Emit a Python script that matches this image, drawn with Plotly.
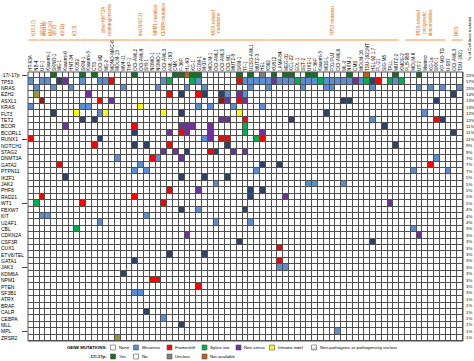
import plotly.graph_objects as go

# ---------------- data ----------------
genes = ["-17/-17p", "TP53", "NRAS", "EZH2", "ASXL1", "KRAS", "FLT3", "TET2", "BCOR", "BCORL1",
         "RUNX1", "NOTCH1", "STAG2", "DNMT3A", "GATA2", "PTPN11", "IKZF1", "JAK2", "PHF6", "RAD21",
         "WT1", "FBXW7", "KIT", "U2AF1", "CBL", "CDKN2A", "CSF3R", "CUX1", "ETV6/TEL", "GATA1",
         "JAK3", "KDM6A", "NPM1", "PTEN", "SF3B1", "ATRX", "BRAF", "CALR", "CEBPA", "MLL",
         "MPL", "ZRSR2"]

pct_mutated = ["25%", "57%", "25%", "14%", "13%", "13%", "12%", "12%", "11%", "11%",
               "11%", "9%", "9%", "7%", "7%", "7%", "5%", "5%", "5%", "5%",
               "5%", "4%", "4%", "4%", "3%", "3%", "3%", "3%", "3%", "3%",
               "3%", "3%", "3%", "3%", "3%", "1%", "1%", "1%", "1%", "1%",
               "1%", "1%"]

cell_lines = ["HT-93A", "NB-4", "UF-1", "Kasumi-1", "SKNO-1", "ME-1", "Kasumi-6", "HNT-34", "KO52", "SKM-1",
              "Kasumi-3", "CTS", "OCI-M2", "ME-2", "MONO-MAC-6", "MOLM-13", "MV4-11", "THP-1", "OCI-AML2", "OCI-AML4",
              "SHI-1", "NOMO-1", "NOMO-1", "OCI-AML3", "AML-193", "CMK", "F-36P", "HL-60", "KG-1", "GDM-1",
              "M-07e", "MOLM-1", "OCI-AML1", "OCI-AML5", "OCI-M1", "MUTZ-8", "SKM-1", "TF-1", "UCSD-AML1", "MUTZ-3",
              "HEL", "K562", "KU812", "LAMA-84", "MEG-01", "KCL-22", "EOL-1", "SET-2", "UKE-1", "F-36P",
              "Kasumi-3", "MDS-L", "P31/FUJ", "OCI-AML6", "ML-2", "NKM-1", "CMS", "MOLM-16", "TSU-1621MT", "HEL 92.1.7",
              "PL-21", "SIG-M5", "TALL", "MUTZ-2", "KMOE-2", "PLB-985", "MOLM-6", "UT-7", "Marimo", "KG-1a",
              "SKK-1", "KP-MO-TS", "U-937", "OCI-AML3", "TSU-1621"]

# mutation calls per gene: "column:code"
# M missense, F frameshift, S splice site, N non-sense, I inframe indel,
# U / u / f non-pathogenic or unclear (dark / inframe / frameshift)
# -17 row: Y yes, Q unclear, A not available (others = no)
mutation_calls = [
    "4Y 9Y 11Y 18Y 25Y 26Y 27A 28Y 29Y 36Y 38Y 40Q 42Y 44Y 45Y 48Y 49Y 55Y 58A 63Y 67Y",
    "0M 2M 3M 5U 6N 9M 12M 13M 14F 23M 24S 28S 29M 36F 37M 38M 39M 40M 41M 42N 43M 44M 45M 46S 47M 48M 49M 50S 51M 52M 53M 54M 55M 56N 57M 58S 59U 60F 62S 63M 64S",
    "1M 4M 7M 16M 22M 27M 30M 38M 41M 47M 51M 52M 59M 67M 69M 71M 74M",
    "1u 10N 24F 26U 29F 30U 33U 34M 36N 37M 73U",
    "2f 12F 14N 33f 34N 36F 37N 54U 55U 70U",
    "0M 9M 10M 19I 29M 31M 35M 40M",
    "4U 8I 12M 13I 23I 26U 36I 51U 68M",
    "9U 11U 33N 34N 37F 45U 59M 70F 71U",
    "6N 18F 26N 27N 28N 31N 37S 61U",
    "18U 24N 26F 27N 31N 37S 40N 73U",
    "0F 12U 30M 31N 33F 34F 39S 40F",
    "11F 18U 20U 24F 34U 63U",
    "23N 25N 27U 31F 32U 35N 37N",
    "15M 21F 22M 26N 70M",
    "5F 19M 40U 43U 69F",
    "18M 20M 39M 66M 72M",
    "6U 26U 30U 34U",
    "32M 48M 49M 54M",
    "24F 29N 38U 40U",
    "2F 18F 38U 44N",
    "1S 9F 23F 62N",
    "26U 29M 37U",
    "2M 3M 20M",
    "12M 32M 38M",
    "8S 66M",
    "27N 67N",
    "36U 59U",
    "43F",
    "24U 30U",
    "18U 43F",
    "43M 44M",
    "16U",
    "21F 22F",
    "29F",
    "18M 19M",
    "",
    "",
    "20U",
    "23M",
    "26U",
    "53M",
    "15u",
]

# AML subgroup headers: (label, first column, last column)
group_labels = ["t(15;17)", "t(8;21)", "inv(16)/<br>t(16;16)", "t(6;9)", "t(9;11)", "t(3;3)",
                "other KMT2A<br>rearrangements", "inv(3)/t(3;3)", "NPM1 mutation", "CEBPA mutation",
                "MDS-related<br>mutations", "TP53 mutation",
                "MDS-related<br>cytogenetic<br>abnormalities", "NOS"]
group_start = [0, 2, 3, 4, 5, 7, 9, 18, 21, 23, 24, 41, 65, 73]
group_end = [1, 2, 3, 4, 6, 8, 17, 20, 22, 23, 40, 63, 71, 74]

# ---------------- styling ----------------
codes = ["", "n", "M", "F", "S", "N", "I", "U", "u", "f", "Y", "Q", "A"]
colors = ["#ffffff", "#ffffff", "#5b8fd4", "#ff0000", "#00b050", "#7030a0", "#ffff00",
          "#2c4266", "#9a9640", "#8e1a14", "#1d6b2a", "#808080", "#b8641c"]

n_rows = len(genes)
n_cols = len(cell_lines)
z = []
for r in range(n_rows):
    row = [0] * n_cols
    for tok in mutation_calls[r].split():
        c = int(tok[:-1])
        row[c] = codes.index(tok[-1])
    z.append(row)

ncode = len(colors)
cs = []
for i, c in enumerate(colors):
    cs.append([i / ncode, c])
    cs.append([(i + 1) / ncode, c])

W, H = 474, 361
L, R, T, B = 28, 11, 72, 20
pw, ph = W - L - R, H - T - B
GRID = "#505050"

def px(X):
    return (X - L) / pw

def py(Y):
    return (H - B - Y) / ph

FONT = "Liberation Sans"

fig = go.Figure()
fig.add_trace(go.Heatmap(
    z=z, x=list(range(n_cols)), y=list(range(n_rows)),
    colorscale=cs, zmin=-0.5, zmax=ncode - 0.5, showscale=False,
    xgap=1, ygap=1, hoverinfo="skip"))

annotations = []
for r, g in enumerate(genes):
    annotations.append(dict(x=px(0.5), xref="paper", y=r, yref="y", text=g, showarrow=False,
                            xanchor="left", yanchor="middle", borderpad=0,
                            font=dict(family=FONT, size=5, color="#000")))
    annotations.append(dict(x=px(465), xref="paper", y=r, yref="y", text=pct_mutated[r],
                            showarrow=False, xanchor="left", yanchor="middle", borderpad=0,
                            font=dict(family=FONT, size=4.3, color="#000")))

annotations.append(dict(x=px(469), xref="paper", y=py(62), yref="paper",
                        text="% of Cell lines mutated", textangle=-90, showarrow=False,
                        xanchor="center", yanchor="bottom", borderpad=0,
                        font=dict(family=FONT, size=4.3, color="#000")))

shapes = [dict(type="rect", xref="paper", yref="paper", x0=0, x1=1, y0=0, y1=1,
               line=dict(color=GRID, width=1), layer="above")]
for lab, s, e in zip(group_labels, group_start, group_end):
    shapes.append(dict(type="line", xref="x", yref="paper", x0=s - 0.45, x1=e + 0.45,
                       y0=py(40), y1=py(40), line=dict(color="#f79646", width=1)))
    annotations.append(dict(x=(s + e) / 2, xref="x", y=py(37), yref="paper", text=lab,
                            textangle=-90, showarrow=False, xanchor="center", yanchor="bottom",
                            borderpad=0, font=dict(family=FONT, size=4.5, color="#e46c0a")))

# legend
leg1 = [("None", "#ffffff", 110.5), ("Missense", "#5b8fd4", 133.5), ("Frameshift", "#ff0000", 167),
        ("Splice site", "#00b050", 202), ("Non-sense", "#7030a0", 236), ("Inframe indel", "#ffff00", 269.5),
        ("Non-pathogenic or pathogenicity unclear", "#ffffff", 311.5)]
leg2 = [("Yes", "#1d6b2a", 110.5), ("No", "#ffffff", 133.5), ("Unclear", "#808080", 167),
        ("Not available", "#b8641c", 202)]
for items, Yc, title in [(leg1, 347.5, "GENE MUTATIONS:"), (leg2, 356.5, "-17/-17p:")]:
    annotations.append(dict(x=px(108), xref="paper", y=py(Yc), yref="paper", text="<b>" + title + "</b>",
                            showarrow=False, xanchor="right", yanchor="middle", borderpad=0,
                            font=dict(family=FONT, size=4.3, color="#000")))
    for lab, col, X in items:
        shapes.append(dict(type="rect", xref="paper", yref="paper", x0=px(X), x1=px(X + 5),
                           y0=py(Yc + 2.5), y1=py(Yc - 2.5), fillcolor=col,
                           line=dict(color="#555", width=0.6)))
        annotations.append(dict(x=px(X + 7), xref="paper", y=py(Yc), yref="paper", text=lab,
                                showarrow=False, xanchor="left", yanchor="middle", borderpad=0,
                                font=dict(family=FONT, size=4.3, color="#000")))

# hatching of the "non-pathogenic" legend box
for k in range(3):
    o = 1.6 * k
    shapes.append(dict(type="line", xref="paper", yref="paper",
                       x0=px(311.5 + o), y0=py(350), x1=px(311.5 + min(5, o + 2.5)), y1=py(350 - min(5, o + 2.5) + o),
                       line=dict(color="#777", width=0.6)))

fig.update_layout(
    template="none",
    width=W, height=H, margin=dict(l=L, r=R, t=T, b=B, pad=0, autoexpand=False),
    paper_bgcolor="#ffffff", plot_bgcolor=GRID,
    xaxis=dict(range=[-0.5, n_cols - 0.5], side="top", tickmode="array",
               tickvals=list(range(n_cols)), ticktext=cell_lines, tickangle=-90,
               tickfont=dict(family=FONT, size=4.7, color="#000"), ticks="", ticklen=0,
               showgrid=False, zeroline=False, showline=False, fixedrange=True, automargin=False),
    yaxis=dict(range=[n_rows - 0.5, -0.5], showticklabels=False, showgrid=False,
               zeroline=False, showline=False, fixedrange=True, automargin=False),
    shapes=shapes, annotations=annotations, showlegend=False)

fig.write_html("out.html", config={"displayModeBar": False},
               post_script="document.body.style.margin='0';document.body.style.overflow='hidden';")
